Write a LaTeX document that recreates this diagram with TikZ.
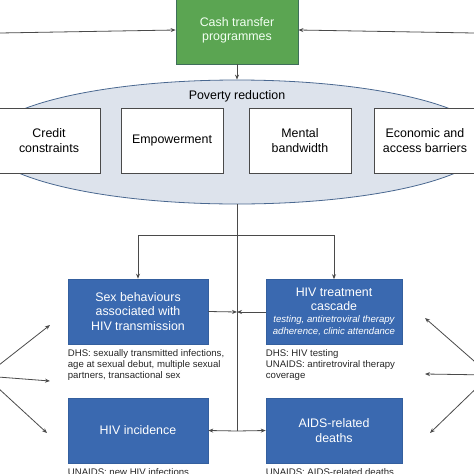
\documentclass[tikz,border=0pt]{standalone}
\usepackage{fontspec}
\setmainfont{Liberation Sans}
\usepackage{tikz}
\usetikzlibrary{arrows.meta, positioning, calc, shapes.geometric}
\usepackage{xcolor}
\definecolor{cashgreen}{HTML}{5BA552}
\definecolor{cashedge}{HTML}{3F6E5A}
\definecolor{hivblue}{HTML}{3A69B0}
\definecolor{hivedge}{HTML}{345F9E}
\definecolor{povfill}{HTML}{DDE3EC}
\definecolor{povedge}{HTML}{4A6890}
\definecolor{linegray}{HTML}{4A4A4A}
\newcommand{\boxfont}{\fontsize{12.4}{14.4}\selectfont}
\newcommand{\notefont}{\fontsize{9.6}{10.8}\selectfont}

\begin{document}
\begin{tikzpicture}[x=1pt, y=-1pt, >={Stealth[length=5pt,width=4pt]},
  link/.style={->, draw=linegray, line width=0.8pt},
  plain/.style={draw=linegray, line width=0.8pt},
  mech/.style={draw=linegray, fill=white, line width=0.8pt, minimum width=102pt,
    minimum height=65pt, align=center, font=\boxfont, inner sep=0pt},
  outcome/.style={draw=hivedge, fill=hivblue, text=white, line width=0.6pt,
    minimum height=65pt, align=center, font=\boxfont, inner sep=0pt},
  note/.style={anchor=north west, align=left, font=\notefont, inner sep=0pt, text=black!85}]
  \clip (0,0) rectangle (474,474);
  \node[draw=cashedge, fill=cashgreen, text=white!95!green, line width=0.8pt, minimum width=122pt,
    minimum height=68pt, align=center, font=\boxfont] (cash) at (237,30) {Cash transfer\\programmes};
  \node[ellipse, draw=povedge, fill=povfill, line width=0.8pt, minimum width=504pt,
    minimum height=124pt, inner sep=0pt] (pov) at (237,142) {};
  \node[font=\boxfont] (povlabel) at (237,96) {Poverty reduction};
  \node[mech] (credit) at (49,140.5) {Credit\\constraints};
  \node[mech] (empower) at (172,140.5) {Empowerment};
  \node[mech] (mental) at (300,140.5) {Mental\\bandwidth};
  \node[mech] (barriers) at (425,140.5) {Economic and\\access barriers};
  \node[outcome, minimum width=140pt] (sex) at (138,311.5) {Sex behaviours\\associated with\\HIV transmission};
  \node[outcome, minimum width=136pt] (cascade) at (334,312)
    {HIV treatment\\cascade\\[-3pt]{\notefont\itshape testing, antiretroviral therapy}\\[-2pt]{\notefont\itshape adherence, clinic attendance}};
  \node[outcome, minimum width=140pt] (incidence) at (138,430.5) {HIV incidence};
  \node[outcome, minimum width=136pt] (deaths) at (334,430.5) {AIDS-related\\deaths};
  \node[note] (sexnote) at ([yshift=-5pt]sex.south west) {DHS: sexually transmitted infections,\\age at sexual debut, multiple sexual\\partners, transactional sex};
  \node[note] (cascadenote) at ([yshift=-5pt]cascade.south west) {DHS: HIV testing\\UNAIDS: antiretroviral therapy\\coverage};
  \node[note] (incnote) at ([yshift=-5pt]incidence.south west) {UNAIDS: new HIV infections};
  \node[note] (deathnote) at ([yshift=-5pt]deaths.south west) {UNAIDS: AIDS-related deaths};
  \coordinate (inleft) at (0,33);
  \coordinate (inright) at (474,33);
  \coordinate (split) at (237,235);
  \coordinate (join) at (237,312);
  \coordinate (trunkend) at (237,431);
  \coordinate (leftsrc) at (-15,376);
  \coordinate (rightsrc) at (490,375);
  \coordinate (ltip1) at (50,325);
  \coordinate (ltip2) at (50,381);
  \coordinate (ltip3) at (47,433);
  \coordinate (rtip1) at (425,318);
  \coordinate (rtip2) at (425,374);
  \coordinate (rtip3) at (430,433);
  \draw[link] (inleft) -- (cash.west);
  \draw[link] (inright) -- (cash.east);
  \draw[link] (cash.south) -- (pov.north);
  \draw[plain] (pov.south) -- (trunkend);
  \draw[link] (split) -| (sex.north);
  \draw[link] (split) -| (cascade.north);
  \draw[link] (sex.east) -- (join);
  \draw[link] (cascade.west) -- (join);
  \draw[link] (trunkend) -- (incidence.east);
  \draw[link] (trunkend) -- (deaths.west);
  \foreach \t in {ltip1,ltip2,ltip3}{\draw[link] (leftsrc) -- (\t);}
  \foreach \t in {rtip1,rtip2,rtip3}{\draw[link] (rightsrc) -- (\t);}
\end{tikzpicture}
\end{document}
